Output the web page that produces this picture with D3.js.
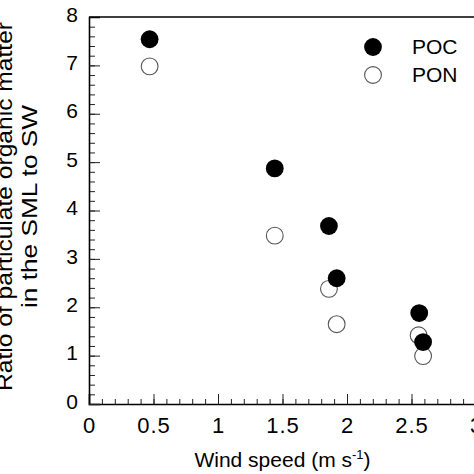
<!DOCTYPE html>
<html>
<head>
<meta charset="utf-8">
<script src="https://cdn.jsdelivr.net/npm/d3@7"></script>
<style>
  html, body { margin: 0; padding: 0; background: #fff; }
  svg text { font-family: "Liberation Sans", Arial, Helvetica, sans-serif; fill: #000; }
</style>
</head>
<body>
<div class="chart"></div>
<script>
// wind speed (m s-1) and SML/SW ratios
var pocWind = [0.47, 1.44, 1.86, 1.92, 2.56, 2.59];
var pocRatio = [7.54, 4.87, 3.68, 2.60, 1.88, 1.28];
var ponWind = [0.47, 1.44, 1.86, 1.92, 2.555, 2.59];
var ponRatio = [6.98, 3.48, 2.38, 1.65, 1.42, 0.99];

var xTicks = [0, 0.5, 1, 1.5, 2, 2.5, 3];
var yTicks = [0, 1, 2, 3, 4, 5, 6, 7, 8];
var seriesNames = ["POC", "PON"];

var W = 474, H = 474;
var margin = {top: 17, right: -2, bottom: 70, left: 89};
var width = W - margin.left - margin.right,
    height = H - margin.top - margin.bottom;

var svg = d3.select(".chart")
    .append("svg")
    .attr("width", W)
    .attr("height", H);

var g = svg.append("g")
    .attr("transform", "translate(" + margin.left + "," + margin.top + ")");

var x = d3.scaleLinear().domain([0, 3]).range([0, width]);
var y = d3.scaleLinear().domain([0, 8]).range([height, 0]);

// minor ticks drawn first, inside the frame
var xMinor = d3.range(0, 3.001, 0.1);
var yMinor = d3.range(0, 8.001, 0.2);

g.append("g")
    .attr("transform", "translate(0," + height + ")")
    .call(d3.axisBottom(x).tickValues(xMinor).tickSize(-5).tickFormat(""))
    .call(function (a) { a.select(".domain").remove(); });

g.append("g")
    .call(d3.axisLeft(y).tickValues(yMinor).tickSize(-6).tickFormat(""))
    .call(function (a) { a.select(".domain").remove(); });

var xAxis = g.append("g")
    .attr("transform", "translate(0," + height + ")")
    .call(d3.axisBottom(x).tickValues(xTicks).tickSize(-10).tickPadding(13)
        .tickFormat(d3.format("")));
xAxis.selectAll("text")
    .style("font-size", "22px")
    .style("letter-spacing", "1px")
    .attr("dy", "0.71em");

var yAxis = g.append("g")
    .call(d3.axisLeft(y).tickValues(yTicks).tickSize(-11).tickPadding(11)
        .tickFormat(d3.format("d")));
yAxis.selectAll("text")
    .style("font-size", "21px")
    .attr("dy", "0.2em");

g.selectAll(".domain").attr("stroke-width", 1.6);
g.selectAll(".tick line").attr("stroke", "#222").attr("stroke-width", 1);

// top frame line
g.append("line")
    .attr("x1", 0).attr("x2", width)
    .attr("y1", 0).attr("y2", 0)
    .attr("stroke", "#000").attr("stroke-width", 1.6);

// PON first so POC sits on top where they overlap
g.selectAll(".pon")
    .data(ponWind)
    .enter()
    .append("circle")
    .attr("class", "pon")
    .attr("cx", function (d) { return x(d); })
    .attr("cy", function (d, i) { return y(ponRatio[i]); })
    .attr("r", 8.4)
    .attr("fill", "#fff")
    .attr("stroke", "#555")
    .attr("stroke-width", 1.1);

g.selectAll(".poc")
    .data(pocWind)
    .enter()
    .append("circle")
    .attr("class", "poc")
    .attr("cx", function (d) { return x(d); })
    .attr("cy", function (d, i) { return y(pocRatio[i]); })
    .attr("r", 8.9)
    .attr("fill", "#000");

// legend
var legend = svg.append("g").attr("transform", "translate(373,47)");
seriesNames.forEach(function (name, i) {
    var row = legend.append("g").attr("transform", "translate(0," + i * 28 + ")");
    row.append("circle")
        .attr("r", i === 0 ? 8.9 : 8.4)
        .attr("fill", i === 0 ? "#000" : "#fff")
        .attr("stroke", i === 0 ? "none" : "#555")
        .attr("stroke-width", 1.1);
    row.append("text")
        .attr("x", 39)
        .attr("y", 7)
        .style("font-size", "21px")
        .text(name);
});

// axis titles
var xTitle = svg.append("text")
    .attr("x", margin.left + width / 2)
    .attr("y", 467)
    .attr("text-anchor", "middle")
    .style("font-size", "21px");
xTitle.append("tspan").text("Wind speed (m s");
xTitle.append("tspan").attr("dy", -8).style("font-size", "13px").text("-1");
xTitle.append("tspan").attr("dy", 8).text(")");

var yTitle = svg.append("text")
    .attr("transform", "translate(0," + (margin.top + height / 2) + ") rotate(-90)")
    .attr("text-anchor", "middle")
    .style("font-size", "22px");
yTitle.append("tspan").attr("x", 4).attr("y", 12)
    .attr("textLength", 369).attr("lengthAdjust", "spacingAndGlyphs")
    .text("Ratio of particulate organic matter");
yTitle.append("tspan").attr("x", 4).attr("y", 37)
    .attr("textLength", 203).attr("lengthAdjust", "spacingAndGlyphs")
    .text("in the SML to SW");
</script>
</body>
</html>
